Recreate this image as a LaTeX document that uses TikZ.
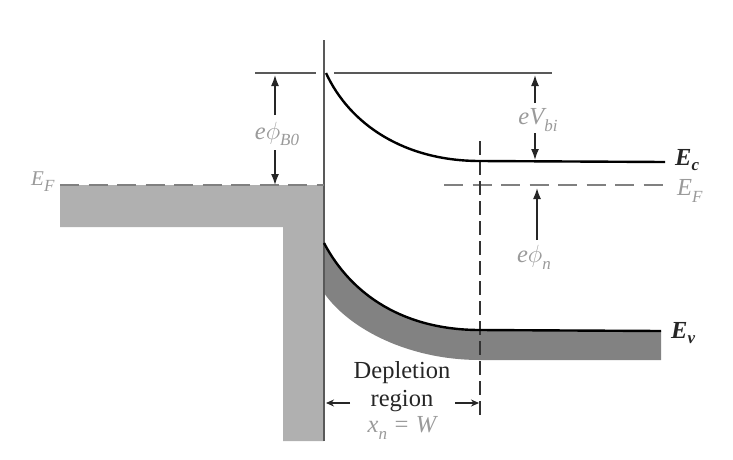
\documentclass[tikz,border=0pt]{standalone}
\usepackage{fontspec}
\setmainfont{Liberation Serif}
\usetikzlibrary{arrows.meta}
\definecolor{metalgray}{HTML}{B0B0B0}
\definecolor{bandgray}{HTML}{828282}
\definecolor{labelgray}{HTML}{9A9A9A}
\definecolor{dashgray}{HTML}{808080}
\newcommand{\lsub}[1]{\raisebox{-0.28em}{\fontsize{17}{18}\selectfont\itshape #1}}
\newcommand{\bsub}[1]{\raisebox{-0.22em}{\fontsize{17}{18}\selectfont\bfseries\itshape #1}}
\tikzset{
  x=1pt,y=-1pt,
  lab/.style={inner sep=0pt,font=\fontsize{24.5}{26}\selectfont,text=black!85},
  graylab/.style={inner sep=0pt,font=\fontsize{24.5}{26}\selectfont\itshape,text=labelgray},
  level/.style={line width=1.6pt,draw=black!65},
  band/.style={line width=2.4pt,draw=black},
  dim/.style={line width=1.5pt,draw=black!85,-{Latex[length=11pt,width=8pt]}},
  smalldim/.style={line width=1.3pt,draw=black!85,-{Stealth[length=8pt,width=7pt]}},
  fermi/.style={line width=2.6pt,draw=dashgray,dash pattern=on 19pt off 9.5pt}
}
\begin{document}
\begin{tikzpicture}
\useasboundingbox (0,0) rectangle (733,459);
% metal
\fill[metalgray] (60,185) -- (324,185) -- (324,441) -- (283,441) -- (283,227) -- (60,227) -- cycle;
% valence band fill
\fill[bandgray] (324,243) .. controls (352,296) and (405,330) .. (480,330) -- (661,331) -- (661,360) -- (480,360)
   .. controls (410,360) and (350,330) .. (324,293) -- cycle;
% named points
\coordinate (axT) at (324,40); \coordinate (axB) at (324,441);
\coordinate (ml) at (255,73); \coordinate (mr) at (316,73);
\coordinate (tl) at (334,73); \coordinate (tr) at (552,73);
\coordinate (fl) at (60,185); \coordinate (fr) at (324,185);
\coordinate (frl) at (444,185); \coordinate (frr) at (668,185);
\coordinate (dT) at (480,141); \coordinate (dB) at (480,418);
\coordinate (bT) at (275,75); \coordinate (bB) at (275,185);
\coordinate (bTs) at (275,115); \coordinate (bBs) at (275,150);
\coordinate (vT) at (535,75); \coordinate (vB) at (535,160);
\coordinate (vTs) at (535,103); \coordinate (vBs) at (535,133);
\coordinate (nT) at (537,188); \coordinate (nB) at (537,240);
\coordinate (wL) at (326,403); \coordinate (wR) at (479,403);
\coordinate (wLs) at (350,403); \coordinate (wRs) at (455,403);
% axis and levels
\draw[level] (axT) -- (axB);
\draw[level] (ml) -- (mr);
\draw[level] (tl) -- (tr);
\draw[fermi] (fl) -- (fr);
\draw[fermi] (frl) -- (frr);
\draw[line width=1.5pt,draw=black!80,dash pattern=on 14pt off 6pt] (dT) -- (dB);
% bands
\draw[band] (326,73) .. controls (350,125) and (405,161) .. (480,161) -- (665,162);
\draw[band] (324,243) .. controls (352,296) and (405,330) .. (480,330) -- (661,331);
% labels
\node[graylab] (phib) at (277,134) {e$\phi$\lsub{B0}};
\node[graylab] (vbi) at (538,120) {eV\lsub{bi}};
\node[graylab] (phin) at (534,257) {e$\phi$\lsub{n}};
\node[graylab,anchor=west,font=\fontsize{21}{23}\selectfont\itshape] (efl) at (31,182) {E\lsub{F}};
\node[graylab,anchor=west] (efr) at (677,191) {E\lsub{F}};
\node[lab,anchor=west] (ec) at (675,160) {\bfseries\itshape E\bsub{c}};
\node[lab,anchor=west] (ev) at (671,333) {\bfseries\itshape E\bsub{v}};
\node[lab] (dep) at (402,373) {Depletion};
\node[lab] (reg) at (402,401) {region};
\node[graylab] (xn) at (402,428) {x\lsub{n} = W};
% dimension arrows
\draw[dim] (bTs) -- (bT);
\draw[dim] (bBs) -- (bB);
\draw[dim] (vTs) -- (vT);
\draw[dim] (vBs) -- (vB);
\draw[dim] (nB) -- (nT);
\draw[smalldim] (wLs) -- (wL);
\draw[smalldim] (wRs) -- (wR);
\end{tikzpicture}
\end{document}
